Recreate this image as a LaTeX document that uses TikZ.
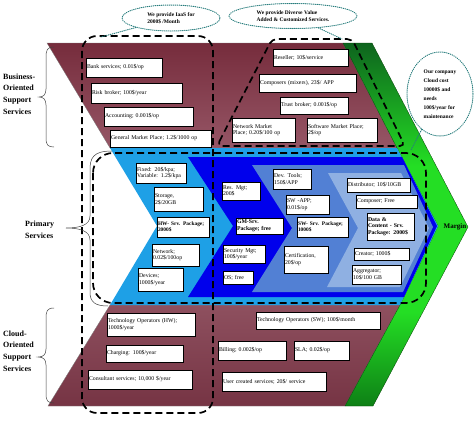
\documentclass[tikz,border=0pt]{standalone}
\usepackage{fontspec}
\setmainfont{Liberation Serif}
\usetikzlibrary{shapes.geometric}
\hyphenpenalty=10000
\exhyphenpenalty=10000
\definecolor{mtop}{RGB}{118,44,60}
\definecolor{mbot}{RGB}{150,86,102}
\definecolor{ltop}{RGB}{142,80,95}
\definecolor{lbot}{RGB}{118,52,68}
\definecolor{gdark}{RGB}{14,100,30}
\definecolor{gmid}{RGB}{36,222,36}
\definecolor{gbot}{RGB}{14,128,22}
\definecolor{cyanb}{RGB}{30,160,230}
\definecolor{blueb}{RGB}{0,0,236}
\definecolor{steelb}{RGB}{82,128,212}
\definecolor{lightb}{RGB}{143,176,226}
\definecolor{dotcol}{RGB}{40,125,125}
\pgfdeclareverticalshading{greensh}{100bp}{color(0bp)=(gbot); color(25bp)=(gbot); color(38bp)=(gmid); color(58bp)=(gmid); color(75bp)=(gdark); color(100bp)=(gdark)}
\newcommand\bx[6]{%
 \pgfmathsetmacro\bxw{#4-#2-2}%
 \pgfmathsetmacro\bxh{#5-#3}%
 \pgfmathsetmacro\bxx{(#2+#4)/2}%
 \pgfmathsetmacro\bxy{(#3+#5)/2}%
 \node[cbox,text width=\bxw pt,minimum height=\bxh pt] (#1) at (\bxx,\bxy) {#6};}
\begin{document}
\begin{tikzpicture}[x=1pt,y=-1pt,
  cbox/.style={draw=black,line width=0.4pt,fill=white,inner xsep=1pt,inner ysep=0.5pt,
    align=left,font=\fontsize{5.8}{6.6}\selectfont},
  dsh/.style={line width=1.7pt,dash pattern=on 7pt off 4pt},
  dotc/.style={draw=dotcol,line width=1pt,dash pattern=on 0.6pt off 1.4pt,line cap=round},
  callout/.style={ellipse,dotc,align=left,inner sep=0pt,font=\fontsize{5.5}{6.6}\selectfont\bfseries},
  sidelabel/.style={align=left,anchor=west,inner sep=0pt,font=\fontsize{8}{11.6}\selectfont\bfseries},
  bracec/.style={draw=black!75,line width=0.5pt}]
\useasboundingbox (0,0) rectangle (474,421);
% background regions
\shade[top color=mtop,bottom color=mbot,draw=black!50,line width=0.3pt]
  (47,43) -- (343,43) -- (397,148) -- (110,148) -- cycle;
\shade[top color=ltop,bottom color=lbot,draw=black!50,line width=0.3pt]
  (110,305) -- (400,305) -- (345,406) -- (48,406) -- cycle;
\shade[shading=greensh,draw=green!25!black,line width=0.3pt]
  (343,43) -- (372,43) -- (468,227) -- (373,406) -- (345,406) -- (400,305) -- (438,226) -- (397,148) -- cycle;
\fill[cyanb] (110,148) -- (397,148) -- (438,226) -- (400,305) -- (110,305) -- (157,226) -- cycle;
\fill[blueb] (188,157) -- (402,157) -- (437,226) -- (404,297) -- (188,297) -- (233,226) -- cycle;
\fill[steelb] (252,165) -- (404,165) -- (433,227) -- (403,292) -- (252,292) -- (292,228) -- cycle;
\fill[lightb] (328,173) -- (401,173) -- (429,228) -- (400,287) -- (327,287) -- (358,228) -- cycle;
% dashed groupings
\draw[dsh,rounded corners=15pt] (82,36) rectangle (213,413);
\draw[dsh,rounded corners=5pt] (217,146) -- (272,39) -- (352,39) -- (405,146) -- cycle;
\draw[dsh,rounded corners=20pt] (93,153) rectangle (426,303);
% boxes: business
\bx{bank}{86}{58}{162}{77}{Bank services; 0.01\$/op}
\bx{risk}{91}{83}{182}{103}{Risk broker; 100\$/year}
\bx{acc}{104}{107}{193}{126}{Accounting; 0.001\$/op}
\bx{gmp}{110}{130}{211}{147}{General Market Place; 1.2\$/1000 op}
\bx{resel}{273}{49}{348}{66}{Reseller; 10\$/service}
\bx{comp}{259}{74}{356}{92}{Composers (mixers), 23\$/ APP}
\bx{trust}{280}{97}{348}{114}{Trust broker; 0.001\$/op}
\bx{nmp}{232}{118}{295}{142}{Network Market\\Place; 0.20\$/100 op}
\bx{smp}{307}{118}{377}{142}{Software Market Place;\\2\$/op}
% boxes: primary
\bx{fixed}{136}{163}{186}{183}{Fixed: 20\$/kpa;\\Variable: 1.2\$/kpa}
\bx{stor}{154}{187}{203}{211}{Storage,\\2\$/20GB}
\bx{hw}{157}{217}{209}{237}{\fontsize{5.4}{6.4}\selectfont\bfseries HW- Srv. Package;\\2000\$}
\bx{netw}{152}{244}{199}{266}{Network;\\0.02\$/100op}
\bx{dev}{138}{268}{183}{291}{Devices;\\1000\$/year}
\bx{res}{222}{182}{260}{200}{Res. Mgt;\\200\$}
\bx{gm}{236}{218}{283}{234}{\bfseries GM-Srv.\\Package; free}
\bx{sec}{223}{245}{265}{263}{Security Mgt;\\100\$/year}
\bx{os}{223}{271}{253}{284}{OS; free}
\bx{devt}{273}{169}{311}{189}{Dev. Tools;\\150\$/APP}
\bx{swapp}{286}{195}{329}{214}{SW -APP;\\0.01\$/op}
\bx{sw}{297}{217}{348}{237}{\fontsize{5.4}{6.4}\selectfont\bfseries SW- Srv. Package;\\1000\$}
\bx{cert}{284}{246}{328}{273}{Certification,\\20\$/op}
\bx{dist}{347}{178}{410}{192}{Distributor; 10\$/10GB}
\bx{compo}{356}{195}{417}{208}{Composer; Free}
\bx{data}{367}{213}{414}{240}{\bfseries Data \&\\Content - Srv.\\Package: 2000\$}
\bx{creat}{354}{248}{409}{260}{Creator; 1000\$}
\bx{aggr}{352}{265}{401}{284}{Aggregator;\\10\$/100 GB}
% boxes: cloud support
\bx{techhw}{107}{313}{195}{336}{Technology Operators (HW);\\1000\$/year}
\bx{charg}{106}{345}{183}{362}{Charging: 100\$/year}
\bx{consu}{88}{370}{192}{389}{Consultant services; 10,000 \$/year}
\bx{techsw}{256}{312}{380}{329}{Technology Operators (SW); 100\$/month}
\bx{bill}{218}{341}{286}{360}{Billing; 0.002\$/op}
\bx{sla}{294}{341}{349}{360}{SLA; 0.02\$/op}
\bx{user}{222}{372}{326}{391}{User created services; 20\$/ service}
% margin
\node[font=\fontsize{7}{8}\selectfont\bfseries,inner sep=0pt] (margin) at (455,227) {Margin};
% callouts
\node[callout,minimum width=98pt,minimum height=26pt] (e1) at (171,18) {We provide IaaS for\\2000\$ /Month};
\node[callout,minimum width=128pt,minimum height=25pt] (e2) at (293,16) {We provide Diverse Value\\Added \& Customized Services.};
\node[callout,minimum width=66pt,minimum height=84pt,font=\fontsize{5.5}{9}\selectfont\bfseries] (e3) at (440,94)
  {Our company\\Cloud cost\\10000\$ and\\needs\\100\$/year for\\maintenance};
\coordinate (t1) at (101,37);
\coordinate (t2) at (342,39);
\coordinate (t3) at (411,150);
\draw[dotc] (e1) -- (t1);
\draw[dotc] (e2) -- (t2);
\draw[dotc] (e3) -- (t3);
% side labels
\node[sidelabel] (lbus) at (3,94) {Business-\\Oriented\\Support\\Services};
\node[sidelabel] (lpri) at (25,230) {Primary\\Services};
\node[sidelabel] (lclo) at (3,351) {Cloud-\\Oriented\\Support\\Services};
% braces
\draw[bracec] (54,47) .. controls (47,47) and (46,50) .. (46,58) -- (46,89)
  .. controls (46,95) and (43,97) .. (39,97) .. controls (43,97) and (46,99) .. (46,105)
  -- (46,138) .. controls (46,145) and (48,147) .. (54,147);
\draw[bracec] (112,151) .. controls (93,151) and (90,158) .. (90,170) -- (90,216)
  .. controls (90,225) and (80,228) .. (66,228) .. controls (80,228) and (90,231) .. (90,240)
  -- (90,292) .. controls (90,302) and (95,306) .. (108,306);
\draw[bracec] (54,308) .. controls (47,308) and (46,311) .. (46,319) -- (46,349)
  .. controls (46,355) and (43,357) .. (38,357) .. controls (43,357) and (46,359) .. (46,365)
  -- (46,394) .. controls (46,401) and (48,403) .. (54,403);
\end{tikzpicture}
\end{document}
